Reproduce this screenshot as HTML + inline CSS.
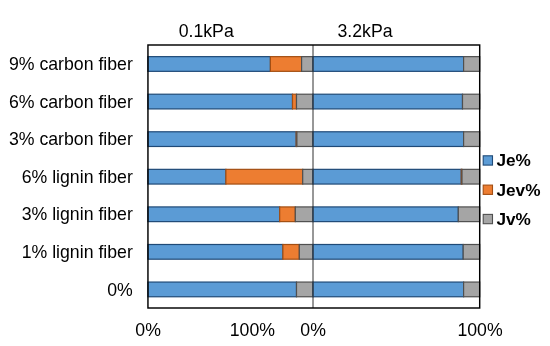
<!DOCTYPE html>
<html><head><meta charset="utf-8"><title>chart</title>
<style>
html,body{margin:0;padding:0;background:#fff}
svg{display:block}
text{font-family:"Liberation Sans",Arial,sans-serif;fill:#000}
.c{font-size:17.7px}
.l{font-size:17.2px;font-weight:bold}
</style></head><body>
<svg width="550" height="346" viewBox="0 0 550 346">
<rect width="550" height="346" fill="#fff"/>
<rect x="147.95" y="56.64" width="122.45" height="14.70" fill="#5b9bd5" stroke="#1f4a77" stroke-width="1.2"/>
<rect x="270.40" y="56.64" width="31.20" height="14.70" fill="#ed7d31" stroke="#a34e12" stroke-width="1.2"/>
<rect x="301.60" y="56.64" width="11.40" height="14.70" fill="#a5a5a5" stroke="#4f4f4f" stroke-width="1.2"/>
<rect x="313.00" y="56.64" width="150.60" height="14.70" fill="#5b9bd5" stroke="#1f4a77" stroke-width="1.2"/>
<rect x="463.60" y="56.64" width="16.10" height="14.70" fill="#a5a5a5" stroke="#4f4f4f" stroke-width="1.2"/>
<text class="c" x="132.8" y="70.1" text-anchor="end">9% carbon fiber</text>
<rect x="147.95" y="94.21" width="144.55" height="14.70" fill="#5b9bd5" stroke="#1f4a77" stroke-width="1.2"/>
<rect x="292.50" y="94.21" width="4.00" height="14.70" fill="#ed7d31" stroke="#a34e12" stroke-width="1.2"/>
<rect x="296.50" y="94.21" width="16.50" height="14.70" fill="#a5a5a5" stroke="#4f4f4f" stroke-width="1.2"/>
<rect x="313.00" y="94.21" width="149.50" height="14.70" fill="#5b9bd5" stroke="#1f4a77" stroke-width="1.2"/>
<rect x="462.50" y="94.21" width="17.20" height="14.70" fill="#a5a5a5" stroke="#4f4f4f" stroke-width="1.2"/>
<text class="c" x="132.8" y="107.7" text-anchor="end">6% carbon fiber</text>
<rect x="147.95" y="131.78" width="148.25" height="14.70" fill="#5b9bd5" stroke="#1f4a77" stroke-width="1.2"/>
<rect x="296.20" y="131.78" width="0.70" height="14.70" fill="#ed7d31" stroke="#a34e12" stroke-width="1.2"/>
<rect x="296.90" y="131.78" width="16.10" height="14.70" fill="#a5a5a5" stroke="#4f4f4f" stroke-width="1.2"/>
<rect x="313.00" y="131.78" width="150.60" height="14.70" fill="#5b9bd5" stroke="#1f4a77" stroke-width="1.2"/>
<rect x="463.60" y="131.78" width="16.10" height="14.70" fill="#a5a5a5" stroke="#4f4f4f" stroke-width="1.2"/>
<text class="c" x="132.8" y="145.2" text-anchor="end">3% carbon fiber</text>
<rect x="147.95" y="169.35" width="77.95" height="14.70" fill="#5b9bd5" stroke="#1f4a77" stroke-width="1.2"/>
<rect x="225.90" y="169.35" width="76.80" height="14.70" fill="#ed7d31" stroke="#a34e12" stroke-width="1.2"/>
<rect x="302.70" y="169.35" width="10.30" height="14.70" fill="#a5a5a5" stroke="#4f4f4f" stroke-width="1.2"/>
<rect x="313.00" y="169.35" width="148.30" height="14.70" fill="#5b9bd5" stroke="#1f4a77" stroke-width="1.2"/>
<rect x="461.30" y="169.35" width="0.70" height="14.70" fill="#ed7d31" stroke="#a34e12" stroke-width="1.2"/>
<rect x="462.00" y="169.35" width="17.70" height="14.70" fill="#a5a5a5" stroke="#4f4f4f" stroke-width="1.2"/>
<text class="c" x="132.8" y="182.8" text-anchor="end">6% lignin fiber</text>
<rect x="147.95" y="206.92" width="131.75" height="14.70" fill="#5b9bd5" stroke="#1f4a77" stroke-width="1.2"/>
<rect x="279.70" y="206.92" width="15.60" height="14.70" fill="#ed7d31" stroke="#a34e12" stroke-width="1.2"/>
<rect x="295.30" y="206.92" width="17.70" height="14.70" fill="#a5a5a5" stroke="#4f4f4f" stroke-width="1.2"/>
<rect x="313.00" y="206.92" width="145.30" height="14.70" fill="#5b9bd5" stroke="#1f4a77" stroke-width="1.2"/>
<rect x="458.30" y="206.92" width="21.40" height="14.70" fill="#a5a5a5" stroke="#4f4f4f" stroke-width="1.2"/>
<text class="c" x="132.8" y="220.4" text-anchor="end">3% lignin fiber</text>
<rect x="147.95" y="244.49" width="134.95" height="14.70" fill="#5b9bd5" stroke="#1f4a77" stroke-width="1.2"/>
<rect x="282.90" y="244.49" width="16.40" height="14.70" fill="#ed7d31" stroke="#a34e12" stroke-width="1.2"/>
<rect x="299.30" y="244.49" width="13.70" height="14.70" fill="#a5a5a5" stroke="#4f4f4f" stroke-width="1.2"/>
<rect x="313.00" y="244.49" width="150.20" height="14.70" fill="#5b9bd5" stroke="#1f4a77" stroke-width="1.2"/>
<rect x="463.20" y="244.49" width="16.50" height="14.70" fill="#a5a5a5" stroke="#4f4f4f" stroke-width="1.2"/>
<text class="c" x="132.8" y="257.9" text-anchor="end">1% lignin fiber</text>
<rect x="147.95" y="282.06" width="148.55" height="14.70" fill="#5b9bd5" stroke="#1f4a77" stroke-width="1.2"/>
<rect x="296.50" y="282.06" width="16.50" height="14.70" fill="#a5a5a5" stroke="#4f4f4f" stroke-width="1.2"/>
<rect x="313.00" y="282.06" width="150.60" height="14.70" fill="#5b9bd5" stroke="#1f4a77" stroke-width="1.2"/>
<rect x="463.60" y="282.06" width="16.10" height="14.70" fill="#a5a5a5" stroke="#4f4f4f" stroke-width="1.2"/>
<text class="c" x="132.8" y="295.5" text-anchor="end">0%</text>
<line x1="313.0" y1="45.0" x2="313.0" y2="308.0" stroke="#303030" stroke-width="1"/>
<rect x="147.95" y="45.0" width="331.75" height="263.00" fill="none" stroke="#000" stroke-width="1.45"/>
<text class="c" x="206.2" y="36.8" text-anchor="middle">0.1kPa</text>
<text class="c" x="365" y="36.8" text-anchor="middle">3.2kPa</text>
<text class="c" x="148.1" y="335.5" text-anchor="middle">0%</text>
<text class="c" x="252.4" y="335.5" text-anchor="middle">100%</text>
<text class="c" x="313.1" y="335.5" text-anchor="middle">0%</text>
<text class="c" x="480" y="335.5" text-anchor="middle">100%</text>
<rect x="483.2" y="155.8" width="9.3" height="9.3" fill="#5b9bd5" stroke="#1f4a77" stroke-width="1.1"/>
<text class="l" x="496.5" y="166.3">Je%</text>
<rect x="483.2" y="185.1" width="9.3" height="9.3" fill="#ed7d31" stroke="#a34e12" stroke-width="1.1"/>
<text class="l" x="496.5" y="195.6">Jev%</text>
<rect x="483.2" y="214.4" width="9.3" height="9.3" fill="#a5a5a5" stroke="#4f4f4f" stroke-width="1.1"/>
<text class="l" x="496.5" y="224.9">Jv%</text>
</svg></body></html>
